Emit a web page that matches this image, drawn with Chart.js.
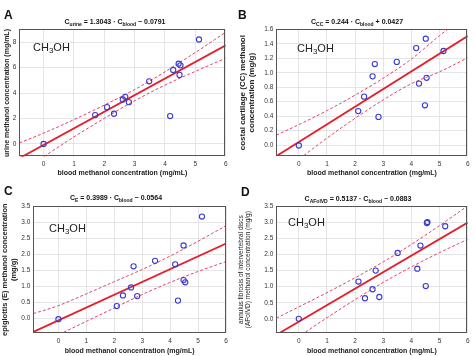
<!DOCTYPE html>
<html><head><meta charset="utf-8">
<script src="https://cdn.jsdelivr.net/npm/chart.js@4.4.1/dist/chart.umd.min.js"></script>
<style>
html,body{margin:0;padding:0;background:#fff;}
#wrap{position:relative;width:474px;height:356px;overflow:hidden;font-family:"Liberation Sans",Arial,sans-serif;background:#fff;}
canvas{position:absolute;}
.t{position:absolute;line-height:1;white-space:nowrap;color:#111;}
.let{font-size:12px;font-weight:bold;}
.eq{font-size:7px;font-weight:bold;transform:translateX(-50%);}
.eq sub{font-size:5px;vertical-align:-1.5px;line-height:0;}
.ch{font-size:11px;color:#222;}
.ch sub{font-size:8px;vertical-align:-2px;line-height:0;}
</style></head>
<body><div id="wrap">
<canvas id="cA" width="237" height="178" style="left:0;top:0"></canvas>
<canvas id="cB" width="237" height="178" style="left:237px;top:0"></canvas>
<canvas id="cC" width="237" height="178" style="left:0;top:178px"></canvas>
<canvas id="cD" width="237" height="178" style="left:237px;top:178px"></canvas>
<div class="t let" style="left:4px;top:9px">A</div>
<div class="t let" style="left:238px;top:9px">B</div>
<div class="t let" style="left:4px;top:185px">C</div>
<div class="t let" style="left:241px;top:186px">D</div>
<div class="t eq" style="left:115px;top:18px">C<sub>urine</sub> = 1.3043 · C<sub>blood</sub> − 0.0791</div>
<div class="t eq" style="left:357px;top:17.5px">C<sub>CC</sub> = 0.244 · C<sub>blood</sub> + 0.0427</div>
<div class="t eq" style="left:116px;top:194px">C<sub>E</sub> = 0.3989 · C<sub>blood</sub> − 0.0564</div>
<div class="t eq" style="left:358px;top:194.5px">C<sub>AFoIVD</sub> = 0.5137 · C<sub>blood</sub> − 0.0883</div>
<div class="t ch" style="left:33px;top:42px">CH<sub>3</sub>OH</div>
<div class="t ch" style="left:297px;top:42.5px">CH<sub>3</sub>OH</div>
<div class="t ch" style="left:49px;top:223px">CH<sub>3</sub>OH</div>
<div class="t ch" style="left:288px;top:217px">CH<sub>3</sub>OH</div>
</div>
<script>
// ---- tick values / labels ----
const xTicks = [0,1,2,3,4,5,6];
const xTickLabels = ['0','1','2','3','4','5','6'];
const yTicksA = [0,2,4,6,8];
const yLabelsA = ['0','2','4','6','8'];
const yTicksB = [0,0.2,0.4,0.6,0.8,1.0,1.2,1.4,1.6];
const yLabelsB = ['0.0','0.2','0.4','0.6','0.8','1.0','1.2','1.4','1.6'];
const yTicksCD = [0,0.5,1.0,1.5,2.0,2.5,3.0,3.5];
const yLabelsCD = ['0.0','0.5','1.0','1.5','2.0','2.5','3.0','3.5'];

// ---- panel A: urine ----
const bloodA = [0,1.70,2.09,2.32,2.61,2.69,2.81,3.48,4.17,4.27,4.45,4.51,4.48,5.12];
const urineA = [0,2.27,2.89,2.37,3.49,3.70,3.28,4.92,2.19,5.81,6.30,6.17,5.42,8.20];
const fitXA = [-0.8,6];
const fitYA = [-1.122,7.747];
const bandXA = [-0.8,0,1,2,3,4,5,6];
const upperA = [0.08,0.85,1.91,3.05,4.27,5.66,7.18,8.77];
const lowerA = [-2.32,-1.01,0.55,2.01,3.39,4.62,5.70,6.73];

// ---- panel B: costal cartilage ----
const bloodB = [0,2.11,2.32,2.62,2.70,2.83,3.48,4.17,4.27,4.48,4.51,4.54,5.14];
const ccB = [-0.005,0.47,0.67,0.95,1.12,0.39,1.15,1.34,0.85,0.55,1.47,0.93,1.30];
const fitXB = [-0.8,6];
const fitYB = [-0.152,1.507];
const bandXB = [-0.8,0,1,2,3,4,5,6];
const upperB = [0.138,0.283,0.477,0.691,0.925,1.189,1.513,1.807];
const lowerB = [-0.442,-0.197,0.097,0.371,0.625,0.849,1.013,1.207];

// ---- panel C: epiglottis ----
const bloodC = [0,2.09,2.31,2.60,2.69,2.82,3.46,4.18,4.28,4.48,4.48,4.54,5.14];
const eC = [-0.02,0.39,0.72,0.97,1.63,0.70,1.80,1.69,0.56,2.28,1.20,1.13,3.18];
const fitXC = [-0.9,6];
const fitYC = [-0.415,2.337];
const bandXC = [-0.9,0,1,2,3,4,5,6];
const upperC = [0.155,0.404,0.773,1.151,1.530,1.949,2.408,2.897];
const lowerC = [-0.985,-0.516,-0.087,0.331,0.750,1.129,1.468,1.777];

// ---- panel D: annulus fibrosis ----
const bloodD = [0,2.12,2.35,2.62,2.73,2.86,3.51,4.21,4.32,4.51,4.55,4.57,5.20];
const afD = [0,1.16,0.64,0.92,1.50,0.68,2.05,1.56,2.28,1.02,2.98,3.01,2.88];
const fitXD = [-0.8,6];
const fitYD = [-0.499,2.994];
const bandXD = [-0.8,0,1,2,3,4,5,6];
const upperD = [0.021,0.372,0.815,1.279,1.773,2.316,2.900,3.514];
const lowerD = [-1.019,-0.548,0.035,0.599,1.133,1.616,2.060,2.474];

const xTitle = 'blood methanol concentration (mg/mL)';

Chart.defaults.font.family = '"Liberation Sans", Arial, sans-serif';

const frame = {id:'frame', afterDatasetsDraw(c){
  const a=c.chartArea, g=c.ctx; g.save(); g.strokeStyle='#555'; g.lineWidth=1;
  g.strokeRect(Math.round(a.left)+0.5, Math.round(a.top)+0.5, Math.round(a.right-a.left)-1, Math.round(a.bottom-a.top)-1);
  g.restore();
}};

const mk = (xs,ys)=>xs.map((x,i)=>({x:x,y:ys[i]}));

function panel(id,o){
  const band = d=>({data:d, showLine:true, borderColor:'#e2456e', borderWidth:1, borderDash:[3,2], pointRadius:0, cubicInterpolationMode:'monotone', fill:false});
  new Chart(document.getElementById(id),{
    type:'scatter',
    data:{datasets:[
      {data:mk(o.bx,o.by), showLine:false, pointRadius:2.6, pointHoverRadius:2.6, pointBorderColor:'#3b3bd2', pointBackgroundColor:'rgba(0,0,0,0)', pointBorderWidth:1.1},
      {data:mk(o.fitX,o.fitY), showLine:true, borderColor:'#e3202c', borderWidth:1.8, pointRadius:0},
      band(mk(o.bandX,o.upper)),
      band(mk(o.bandX,o.lower))
    ]},
    options:{
      responsive:false, animation:false, events:[],
      layout:{padding:{top:o.padTop,right:o.padRight,left:0,bottom:0}},
      plugins:{legend:{display:false},tooltip:{enabled:false}},
      scales:{
        x:{type:'linear',min:o.xmin,max:6,
          afterBuildTicks:s=>{s.ticks=xTicks.map(v=>({value:v}));},
          ticks:{callback:(v,i)=>xTickLabels[i],font:{size:6.5},color:'#333',padding:4,maxRotation:0,autoSkip:false},
          grid:{color:'#dedede',lineWidth:0.8,drawTicks:false},border:{display:false},
          title:{display:true,text:xTitle,font:{size:7,weight:'bold'},color:'#222',padding:{top:0,bottom:0.5}},
          afterFit:s=>{s.height=o.xH;}},
        y:{type:'linear',min:o.ymin,max:o.ymax,
          afterBuildTicks:s=>{s.ticks=o.yt.map(v=>({value:v}));},
          ticks:{callback:(v,i)=>o.yl[i],font:{size:6.5},color:'#333',padding:3,autoSkip:false},
          grid:{color:'#dedede',lineWidth:0.8,drawTicks:false},border:{display:false},
          title:{display:true,text:o.yTitle,font:{size:o.yFont,weight:o.yWeight,lineHeight:o.yLH},color:'#222',padding:{top:o.yPad,bottom:0}},
          afterFit:s=>{s.width=o.yW;}}
      }
    },
    plugins:[frame]
  });
}

panel('cA',{bx:bloodA,by:urineA,fitX:fitXA,fitY:fitYA,bandX:bandXA,upper:upperA,lower:lowerA,
  xmin:-0.8,ymin:-1,ymax:9,yt:yTicksA,yl:yLabelsA,padTop:29.3,padRight:11.3,xH:21.3,yW:19.3,
  yTitle:'urine methanol concentration (mg/mL)',yFont:7,yWeight:'bold',yLH:1.2,yPad:2.5});
panel('cB',{bx:bloodB,by:ccB,fitX:fitXB,fitY:fitYB,bandX:bandXB,upper:upperB,lower:lowerB,
  xmin:-0.8,ymin:-0.15,ymax:1.6,yt:yTicksB,yl:yLabelsB,padTop:29.3,padRight:6.3,xH:22,yW:39.3,
  yTitle:['costal cartilage (CC) methanol','concentration (mg/g)'],yFont:8,yWeight:'bold',yLH:1.15,yPad:1.3});
panel('cC',{bx:bloodC,by:eC,fitX:fitXC,fitY:fitYC,bandX:bandXC,upper:upperC,lower:lowerC,
  xmin:-0.9,ymin:-0.45,ymax:3.5,yt:yTicksCD,yl:yLabelsCD,padTop:28.3,padRight:11,xH:23,yW:33.3,
  yTitle:['epiglottis (E) methanol concentration','(mg/g)'],yFont:7.5,yWeight:'bold',yLH:1.2,yPad:0.8});
panel('cD',{bx:bloodD,by:afD,fitX:fitXD,fitY:fitYD,bandX:bandXD,upper:upperD,lower:lowerD,
  xmin:-0.8,ymin:-0.44,ymax:3.5,yt:yTicksCD,yl:yLabelsCD,padTop:28.3,padRight:6.3,xH:23,yW:39.3,
  yTitle:['annulus fibrosis of intervertebral discs','(AFoIVD) methanol concentration (mg/g)'],yFont:6.5,yWeight:'normal',yLH:1.15,yPad:0});
</script>
</body></html>
